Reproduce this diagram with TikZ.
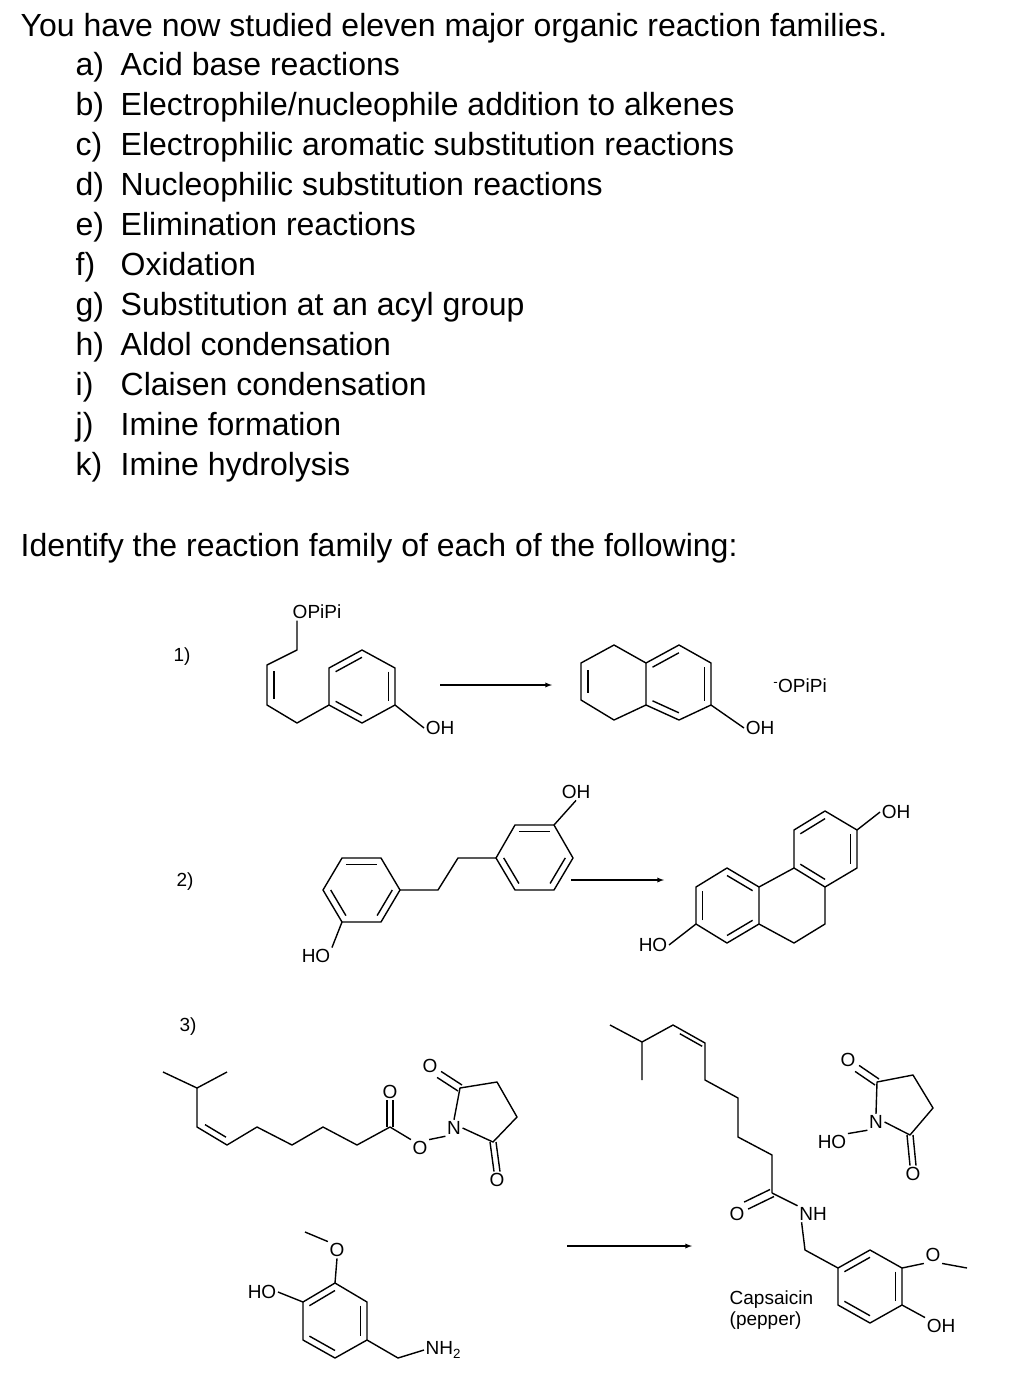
\documentclass[tikz,border=0pt]{standalone}
\usepackage{fontspec}
\setmainfont{Liberation Sans}
\usetikzlibrary{calc}
\begin{document}
\begin{tikzpicture}[x=1pt,y=-1pt,line width=1.4pt,line join=round,
  txt/.style={anchor=base west,inner sep=0,font=\fontsize{32}{34}\selectfont},
  lab/.style={inner sep=1pt,font=\fontsize{19}{20}\selectfont},
  arr/.style={-latex,line width=1.3pt}]
\useasboundingbox (0,0) rectangle (1018,1376);
\newcommand\dbl[3]{\draw ($(#1)!0.2!(#3)$) -- ($(#2)!0.2!(#3)$);}
% text
\node[txt] (t0) at (20,36) {You have now studied eleven major organic reaction families.};
\foreach \l/\s [count=\i] in {a/Acid base reactions,b/Electrophile{/}nucleophile addition to alkenes,c/Electrophilic aromatic substitution reactions,d/Nucleophilic substitution reactions,e/Elimination reactions,f/Oxidation,g/Substitution at an acyl group,h/Aldol condensation,i/Claisen condensation,j/Imine formation,k/Imine hydrolysis}{
  \node[txt] (l\i) at (75,35+40*\i) {\l)};
  \node[txt] (s\i) at (120,35+40*\i) {\s};}
\node[txt] (t1) at (20,556) {Identify the reaction family of each of the following:};
% ---------- 1
\node[lab] (n1) at (182,657) {1)};
\node[lab] (op1) at (317,612) {OPiPi};
\coordinate (a1) at (297,650); \coordinate (a2) at (267,665); \coordinate (a3) at (267,705);
\coordinate (a4) at (297,723);
\coordinate (r1) at (329,705); \coordinate (r2) at (329,668); \coordinate (r3) at (362,650);
\coordinate (r4) at (395,668); \coordinate (r5) at (395,705); \coordinate (r6) at (362,723);
\coordinate (rc) at (362,686.5);
\draw (op1.south -| a1) -- (a1) -- (a2) -- (a3) -- (a4) -- (r1);
\draw ($(a2)!0.15!(a3)+(7,0)$) -- ($(a3)!0.15!(a2)+(7,0)$);
\draw (r1)--(r2)--(r3)--(r4)--(r5)--(r6)--cycle;
\dbl{r2}{r3}{rc}\dbl{r4}{r5}{rc}\dbl{r6}{r1}{rc}
\node[lab] (oh1) at (440,728) {OH};
\draw (r5) -- (oh1.west);
\draw[arr] (440,685) -- (552,685);
\coordinate (p1) at (614,645); \coordinate (p2) at (581,663); \coordinate (p3) at (581,700);
\coordinate (p4) at (614,720); \coordinate (p5) at (646,705); \coordinate (p6) at (646,663);
\coordinate (pc) at (613.5,684);
\coordinate (q1) at (679,645); \coordinate (q2) at (711,663); \coordinate (q3) at (711,705);
\coordinate (q4) at (679,720); \coordinate (qc) at (678.5,684);
\draw (p6)--(p1)--(p2)--(p3)--(p4)--(p5)--cycle;
\draw (p6)--(q1)--(q2)--(q3)--(q4)--(p5);
\draw ($(p2)!0.2!(p3)+(7,0)$) -- ($(p3)!0.2!(p2)+(7,0)$);
\dbl{p6}{q1}{qc}\dbl{q2}{q3}{qc}\dbl{q4}{p5}{qc}
\node[lab] (oh2) at (760,728) {OH};
\draw (q3) -- (oh2.west);
\node[lab] (op2) at (800,686) {\textsuperscript{-}OPiPi};
% ---------- 2
\node[lab] (n2) at (185,882) {2)};
\coordinate (b1) at (342,858); \coordinate (b2) at (381,858); \coordinate (b3) at (400,890);
\coordinate (b4) at (381,922); \coordinate (b5) at (342,922); \coordinate (b6) at (323,890);
\coordinate (bc) at (361.5,890);
\draw (b1)--(b2)--(b3)--(b4)--(b5)--(b6)--cycle;
\dbl{b1}{b2}{bc}\dbl{b3}{b4}{bc}\dbl{b5}{b6}{bc}
\node[lab] (ho1) at (316,956) {HO};
\draw (b5) -- (ho1.north east);
\coordinate (c1) at (438,890); \coordinate (c2) at (458,858);
\coordinate (d1) at (496,858); \coordinate (d2) at (515,825); \coordinate (d3) at (554,825);
\coordinate (d4) at (573,858); \coordinate (d5) at (554,890); \coordinate (d6) at (515,890);
\coordinate (dc) at (534.5,857.5);
\draw (b3)--(c1)--(c2)--(d1);
\draw (d1)--(d2)--(d3)--(d4)--(d5)--(d6)--cycle;
\dbl{d2}{d3}{dc}\dbl{d4}{d5}{dc}\dbl{d6}{d1}{dc}
\node[lab] (oh3) at (576,792) {OH};
\draw (d3) -- (oh3.south);
\draw[arr] (571,880) -- (664,880);
\coordinate (e1) at (696,887); \coordinate (e2) at (727,868); \coordinate (e3) at (759,887);
\coordinate (e4) at (759,924); \coordinate (e5) at (727,943); \coordinate (e6) at (696,924);
\coordinate (ec) at (727,905.5);
\draw (e1)--(e2)--(e3)--(e4)--(e5)--(e6)--cycle;
\dbl{e6}{e1}{ec}\dbl{e2}{e3}{ec}\dbl{e4}{e5}{ec}
\node[lab] (ho2) at (653,945) {HO};
\draw (e6) -- (ho2.east);
\coordinate (f1) at (794,868); \coordinate (f2) at (825,887); \coordinate (f3) at (825,924);
\coordinate (f4) at (794,943);
\coordinate (g1) at (794,830); \coordinate (g2) at (825,811); \coordinate (g3) at (857,830);
\coordinate (g4) at (857,868); \coordinate (gc) at (825.5,849);
\draw (e3)--(f1)--(f2)--(f3)--(f4)--(e4);
\draw (f1)--(g1)--(g2)--(g3)--(g4)--(f2);
\dbl{g1}{g2}{gc}\dbl{g3}{g4}{gc}\dbl{f2}{f1}{gc}
\node[lab] (oh4) at (896,812) {OH};
\draw (g3) -- (oh4.west);
% ---------- 3
\node[lab] (n3) at (188,1027) {3)};
\coordinate (h1) at (163,1072); \coordinate (h2) at (197,1088); \coordinate (h3) at (227,1072);
\coordinate (h4) at (197,1127); \coordinate (h5) at (227,1145); \coordinate (h6) at (257,1127);
\coordinate (h7) at (292,1145); \coordinate (h8) at (323,1127); \coordinate (h9) at (357,1145);
\coordinate (hc) at (390,1127);
\draw (h1)--(h2)--(h3); \draw (h2)--(h4)--(h5)--(h6)--(h7)--(h8)--(h9)--(hc);
\draw ($(h4)!0.2!(h5)+(2,-6)$) -- ($(h5)!0.1!(h4)+(2,-6)$);
\node[lab] (o1) at (390,1092) {O};
\draw ($(hc)+(-3,0)$) -- ($(o1.south)+(-3,0)$); \draw ($(hc)+(3,0)$) -- ($(o1.south)+(3,0)$);
\node[lab] (o2) at (420,1148) {O};
\draw (hc) -- (o2.north west);
\node[lab] (nn1) at (454,1128) {N};
\draw (o2.north east) -- (nn1.south west);
\coordinate (k1) at (460,1088); \coordinate (k2) at (497,1082); \coordinate (k3) at (517,1117);
\coordinate (k4) at (493,1142);
\draw (nn1.north) -- (k1) -- (k2) -- (k3) -- (k4) -- (nn1.east);
\node[lab] (o3) at (430,1066) {O};
\draw ($(k1)+(-2,3)$) -- ($(o3.south east)+(-2,3)$); \draw ($(k1)+(2,-3)$) -- ($(o3.south east)+(2,-3)$);
\node[lab] (o4) at (497,1180) {O};
\draw ($(k4)+(-3,0)$) -- ($(o4.north)+(-3,0)$); \draw ($(k4)+(3,0)$) -- ($(o4.north)+(3,0)$);
% vanillylamine
\coordinate (m0) at (305,1232);
\node[lab] (o5) at (337,1250) {O};
\draw (m0) -- (o5.north west);
\coordinate (v1) at (335,1283); \coordinate (v2) at (367,1302); \coordinate (v3) at (367,1340);
\coordinate (v4) at (335,1358); \coordinate (v5) at (303,1340); \coordinate (v6) at (303,1302);
\coordinate (vc) at (335,1320.5);
\draw (o5.south) -- (v1);
\draw (v1)--(v2)--(v3)--(v4)--(v5)--(v6)--cycle;
\dbl{v6}{v1}{vc}\dbl{v2}{v3}{vc}\dbl{v4}{v5}{vc}
\node[lab] (ho3) at (262,1292) {HO};
\draw (v6) -- (ho3.east);
\coordinate (w1) at (398,1358);
\node[lab,anchor=west] (nh2) at (424,1350) {NH\textsubscript{2}};
\draw (v3) -- (w1) -- (nh2.west);
\draw[arr] (567,1246) -- (692,1246);
% capsaicin
\coordinate (x1) at (610,1025); \coordinate (x2) at (642,1042); \coordinate (x3) at (642,1080);
\coordinate (x4) at (673,1025); \coordinate (x5) at (705,1043); \coordinate (x6) at (705,1080);
\coordinate (x7) at (738,1098); \coordinate (x8) at (738,1137); \coordinate (x9) at (772,1155);
\coordinate (xc) at (772,1193);
\draw (x1)--(x2)--(x3); \draw (x2)--(x4)--(x5)--(x6)--(x7)--(x8)--(x9)--(xc);
\draw ($(x4)!0.15!(x5)+(2,6)$) -- ($(x5)!0.15!(x4)+(2,6)$);
\node[lab] (o6) at (737,1214) {O};
\draw ($(xc)+(-2,-3.5)$) -- ($(o6.north east)+(-2,-3.5)$); \draw ($(xc)+(2,3.5)$) -- ($(o6.north east)+(2,3.5)$);
\node[lab] (nh) at (813,1214) {NH};
\draw (xc) -- (nh.north west);
\coordinate (y1) at (805,1250);
\coordinate (z1) at (838,1268); \coordinate (z2) at (870,1250); \coordinate (z3) at (902,1268);
\coordinate (z4) at (902,1305); \coordinate (z5) at (870,1323); \coordinate (z6) at (838,1305);
\coordinate (zc) at (870,1286.5);
\draw ($(nh.south west)+(4,0)$) -- (y1) -- (z1);
\draw (z1)--(z2)--(z3)--(z4)--(z5)--(z6)--cycle;
\dbl{z1}{z2}{zc}\dbl{z3}{z4}{zc}\dbl{z5}{z6}{zc}
\node[lab] (o7) at (933,1255) {O};
\draw (z3) -- (o7.south west); \draw (o7.south east) -- (967,1268);
\node[lab] (oh5) at (941,1326) {OH};
\draw (z4) -- (oh5.north west);
\node[lab,anchor=west,align=left,font=\fontsize{19}{21}\selectfont] (cap) at (728,1310) {Capsaicin\\(pepper)};
% NHS
\node[lab] (nn2) at (876,1122) {N};
\node[lab] (ho4) at (832,1142) {HO};
\draw (ho4.north east) -- (nn2.south west);
\coordinate (u1) at (877,1082); \coordinate (u2) at (913,1075); \coordinate (u3) at (933,1108);
\coordinate (u4) at (910,1135);
\draw (nn2.north) -- (u1) -- (u2) -- (u3) -- (u4) -- (nn2.east);
\node[lab] (o8) at (848,1060) {O};
\draw ($(u1)+(-2,3)$) -- ($(o8.south east)+(-2,3)$); \draw ($(u1)+(2,-3)$) -- ($(o8.south east)+(2,-3)$);
\node[lab] (o9) at (913,1174) {O};
\draw ($(u4)+(-3,0)$) -- ($(o9.north)+(-3,0)$); \draw ($(u4)+(3,0)$) -- ($(o9.north)+(3,0)$);
\end{tikzpicture}
\end{document}
